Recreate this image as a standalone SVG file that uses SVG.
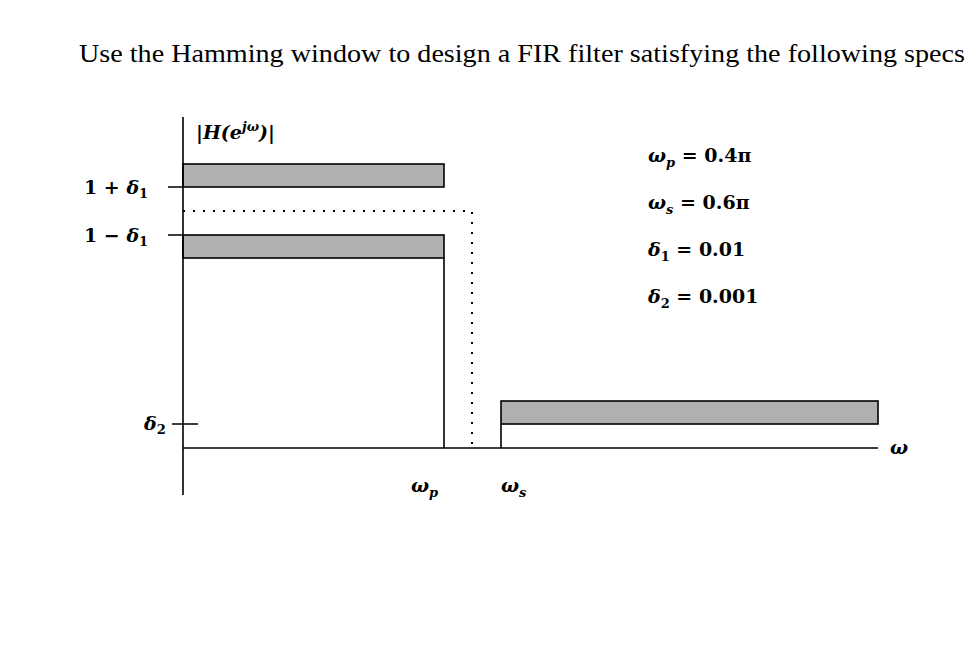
<svg xmlns="http://www.w3.org/2000/svg" width="972" height="646" viewBox="0 0 972 646">
<style>
.l{stroke:#000;stroke-width:1.6;fill:none}
.b{fill:#b0b0b0;stroke:#000;stroke-width:1.6}
.m{font-family:"DejaVu Serif","Liberation Serif",serif;font-weight:bold;font-size:19px}
.i{font-family:"DejaVu Serif","Liberation Serif",serif;font-style:italic;font-weight:bold;font-size:19px}
</style>
<rect width="972" height="646" fill="#fff"/>
<text x="79" y="62" font-family="Liberation Serif,serif" font-size="26" textLength="886" lengthAdjust="spacingAndGlyphs">Use the Hamming window to design a FIR filter satisfying the following specs</text>
<rect class="b" x="183" y="164" width="261" height="23"/>
<rect class="b" x="183" y="235" width="261" height="23"/>
<rect class="b" x="501" y="401" width="377" height="23"/>
<path class="l" d="M183 117V495M183 448H878M444 258V448M501 424V448M168 187H183M168 235H183M172 424H198"/>
<path d="M183 211H472V448" stroke="#000" stroke-width="2" fill="none" stroke-dasharray="2 8"/>
<text class="i" x="196" y="139">|H(e<tspan font-size="13" dy="-8">jω</tspan><tspan dy="8">)|</tspan></text>
<text class="m" x="84" y="194">1 + <tspan font-style="italic">δ</tspan><tspan font-size="13" dy="4">1</tspan></text>
<text class="m" x="84" y="242">1 − <tspan font-style="italic">δ</tspan><tspan font-size="13" dy="4">1</tspan></text>
<text class="i" x="144" y="430">δ<tspan font-size="13" dy="4" font-style="normal">2</tspan></text>
<text class="i" x="411" y="492">ω<tspan font-size="13" dy="5">p</tspan></text>
<text class="i" x="501" y="492">ω<tspan font-size="13" dy="5">s</tspan></text>
<text class="i" x="890" y="454">ω</text>
<text class="i" x="648" y="162">ω<tspan font-size="13" dy="5">p</tspan><tspan font-style="normal" dy="-5"> = 0.4π</tspan></text>
<text class="i" x="648" y="209">ω<tspan font-size="13" dy="5">s</tspan><tspan font-style="normal" dy="-5"> = 0.6π</tspan></text>
<text class="i" x="648" y="256">δ<tspan font-size="13" dy="5" font-style="normal">1</tspan><tspan font-style="normal" dy="-5"> = 0.01</tspan></text>
<text class="i" x="648" y="303">δ<tspan font-size="13" dy="5" font-style="normal">2</tspan><tspan font-style="normal" dy="-5"> = 0.001</tspan></text>
</svg>
